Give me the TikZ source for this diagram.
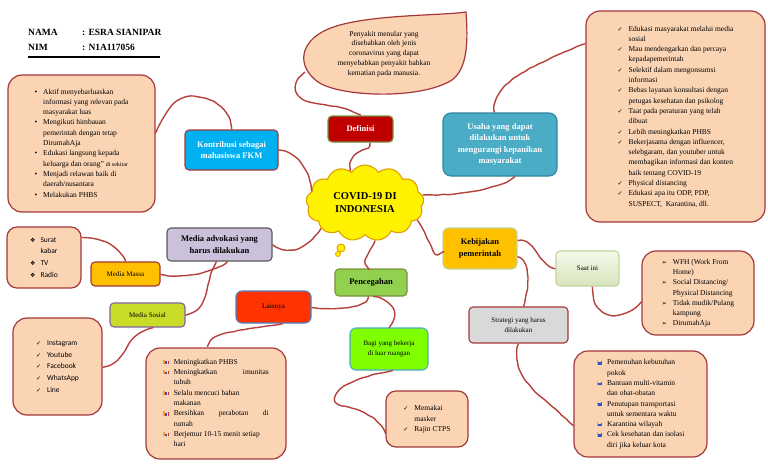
\documentclass[tikz,border=0pt]{standalone}
\usepackage{fontspec}
\setmainfont{Liberation Serif}
\setsansfont{Carlito}
\newfontfamily\symfont{DejaVu Sans}
\usepackage{xcolor}
\usepackage{tikz}
\usetikzlibrary{shapes.symbols,decorations.pathmorphing}

\definecolor{peach}{HTML}{FBD4B4}
\definecolor{boxred}{HTML}{A5383A}
\definecolor{linkred}{HTML}{B5413C}
\definecolor{fkmblue}{HTML}{00B0F0}
\definecolor{defred}{HTML}{C00000}
\definecolor{olive}{HTML}{77933C}
\definecolor{teal}{HTML}{4BACC6}
\definecolor{tealdark}{HTML}{31859C}
\definecolor{amber}{HTML}{FFC000}
\definecolor{palegreen}{HTML}{C3D69B}
\definecolor{saatlight}{HTML}{F4F9EA}
\definecolor{saatgreen}{HTML}{D7E4BD}
\definecolor{grey}{HTML}{D9D9D9}
\definecolor{lavender}{HTML}{CCC1DA}
\definecolor{darkgrey}{HTML}{595959}
\definecolor{lime}{HTML}{C8DC28}
\definecolor{purple}{HTML}{8064A2}
\definecolor{flame}{HTML}{FF3300}
\definecolor{steel}{HTML}{4F81BD}
\definecolor{leaf}{HTML}{92D050}
\definecolor{brightgreen}{HTML}{80FF00}
\definecolor{cloudedge}{HTML}{E0A000}
\definecolor{iconorange}{HTML}{F0A030}
\definecolor{iconblue}{HTML}{3050C0}
\definecolor{iconred}{HTML}{D03030}

\newcommand\chk{{\symfont\fontsize{6}{6}\selectfont ✓}}
\newcommand\dia{{\symfont\fontsize{6}{6}\selectfont ❖}}
\newcommand\arw{{\symfont\fontsize{6}{6}\selectfont ➢}}
\newcommand\picbul{\raisebox{0.3pt}{\textcolor{iconorange}{\rule{1.5pt}{4.2pt}}\hspace{0.2pt}\textcolor{iconblue}{\rule{2.4pt}{2.6pt}}\hspace{0.2pt}\textcolor{iconred}{\rule{1.2pt}{3.4pt}}}}

\begin{document}
\pgfmathsetseed{11}
\begin{tikzpicture}[
    x=1pt, y=-1pt,
    listbox/.style={draw=boxred, line width=1.2pt, fill=peach, rounded corners=14pt, inner sep=0pt, align=left, font=\fontsize{7.5}{10.3}\selectfont},
    titlebox/.style={draw, line width=1.1pt, rounded corners=4pt, align=center, inner sep=1pt, font=\bfseries\fontsize{8.5}{11.3}\selectfont},
    smallbox/.style={draw, line width=1.1pt, rounded corners=4pt, align=center, inner sep=1pt, font=\fontsize{7}{10}\selectfont},
    conn/.style={draw=linkred, line width=1.4pt, decorate, decoration={random steps, segment length=5pt, amplitude=0.5pt}, rounded corners=1.5pt},
    head/.style={anchor=base west, inner sep=0pt, font=\bfseries\fontsize{9.5}{11}\selectfont}
]
    \useasboundingbox (0,0) rectangle (768,466);

    % header
    \node[head] (nama) at (28,35) {NAMA};
    \node[head] (namaval) at (82,35) {: ESRA SIANIPAR};
    \node[head] (nim) at (28,50) {NIM};
    \node[head] (nimval) at (82,50) {: N1A117056};
    \draw[line width=1.2pt] (28,57) -- (160,57);

    % definisi bubble
    \draw[draw=boxred, line width=1.2pt, fill=peach] (466,12) .. controls (440,16) and (360,14) .. (326,30)
        .. controls (300,42) and (296,66) .. (318,82) .. controls (340,97) and (420,100) .. (452,80)
        .. controls (468,68) and (468,40) .. (466,12) -- cycle;
    \node[align=center, font=\fontsize{7.5}{9.9}\selectfont] (defbub) at (384,54)
        {Penyakit menular yang\\disebabkan oleh jenis\\coronavirus yang dapat\\menyebabkan penyakit bahkan\\kematian pada manusia.};
    \coordinate (defleft) at (305,72);

    % list boxes
    \node[listbox, minimum width=147, minimum height=137] (kbox) at (81.5,143.5) {%
        \begin{tabular}{@{}l@{\hspace{6pt}}l@{}}
        \textbullet & Aktif menyebarluaskan\\
         & informasi yang relevan pada\\
         & masyarakat luas\\
        \textbullet & Mengikuti himbauan\\
         & pemerintah dengan tetap\\
         & DirumahAja\\
        \textbullet & Edukasi langsung kepada\\
         & keluarga dan orang'' {\fontsize{6}{6}\selectfont di sekitar}\\
        \textbullet & Menjadi relawan baik di\\
         & daerah/nusantara\\
        \textbullet & Melakukan PHBS
        \end{tabular}};
    \node[listbox, minimum width=179, minimum height=211] (ubox) at (675.5,116.5) {%
        \begin{tabular}{@{}l@{\hspace{6pt}}l@{}}
        \chk & Edukasi masyarakat melalui media\\
         & sosial\\
        \chk & Mau mendengarkan dan percaya\\
         & kepadapemerintah\\
        \chk & Selektif dalam mengonsumsi\\
         & informasi\\
        \chk & Bebas layanan konsultasi dengan\\
         & petugas kesehatan dan psikolog\\
        \chk & Taat pada peraturan yang telah\\
         & dibuat\\
        \chk & Lebih meningkatkan PHBS\\
        \chk & Bekerjasama dengan influencer,\\
         & selebgaram, dan youtuber untuk\\
         & membagikan informasi dan konten\\
         & baik tentang COVID-19\\
        \chk & Physical distancing\\
        \chk & Edukasi apa itu ODP, PDP,\\
         & SUSPECT,~ Karantina, dll.
        \end{tabular}};
    \node[listbox, minimum width=74, minimum height=61, rounded corners=10pt, font=\sffamily\fontsize{7.5}{11.7}\selectfont] (mmbox) at (44,257.5) {%
        \begin{tabular}{@{}l@{\hspace{5pt}}l@{}}
        \dia & Surat\\
         & kabar\\
        \dia & TV\\
        \dia & Radio
        \end{tabular}};
    \node[listbox, minimum width=89, minimum height=97, font=\sffamily\fontsize{7.5}{11.7}\selectfont] (msbox) at (57.5,366.5) {%
        \begin{tabular}{@{}l@{\hspace{6pt}}l@{}}
        \chk & Instagram\\
        \chk & Youtube\\
        \chk & Facebook\\
        \chk & WhatsApp\\
        \chk & Line
        \end{tabular}};
    \node[listbox, minimum width=140, minimum height=111] (lbox) at (216,403.5) {%
        \begin{tabular}{@{}l@{\hspace{5pt}}l@{}}
        \picbul & Meningkatkan PHBS\\
        \picbul & \makebox[95pt][s]{Meningkatkan\hfill imunitas}\\
         & tubuh\\
        \picbul & Selalu mencuci bahan\\
         & makanan\\
        \picbul & \makebox[95pt][s]{Bersihkan\hfill perabotan\hfill di}\\
         & rumah\\
        \picbul & Berjemur 10-15 menit setiap\\
         & hari
        \end{tabular}};
    \node[listbox, minimum width=82, minimum height=56, rounded corners=10pt] (mbox) at (427,419) {%
        \begin{tabular}{@{}l@{\hspace{6pt}}l@{}}
        \chk & Memakai\\
         & masker\\
        \chk & Rajin CTPS
        \end{tabular}};
    \node[listbox, minimum width=112, minimum height=84] (sbox) at (698,293) {%
        \begin{tabular}{@{}l@{\hspace{6pt}}l@{}}
        \arw & WFH (Work From\\
         & Home)\\
        \arw & Social Distancing/\\
         & Physical Distancing\\
        \arw & Tidak mudik/Pulang\\
         & kampung\\
        \arw & DirumahAja
        \end{tabular}};
    \node[listbox, minimum width=133, minimum height=106] (stbox) at (640.5,404) {%
        \begin{tabular}{@{}l@{\hspace{5pt}}l@{}}
        \picbul & Pemenuhan kebutuhan\\
         & pokok\\
        \picbul & Bantuan multi-vitamin\\
         & dan obat-obatan\\
        \picbul & Penutupan transportasi\\
         & untuk sementara waktu\\
        \picbul & Karantina wilayah\\
        \picbul & Cek kesehatan dan isolasi\\
         & diri jika keluar kota
        \end{tabular}};

    % centre
    \node[cloud, cloud puffs=13, cloud puff arc=115, aspect=1.5, draw=cloudedge, line width=1.1pt, fill=yellow,
        minimum width=118, minimum height=76, inner sep=0pt, align=center, font=\bfseries\fontsize{10.5}{13}\selectfont] (covid) at (365,203) {COVID-19 DI\\INDONESIA};
    \node[circle, draw=cloudedge, fill=yellow, line width=0.9pt, minimum size=8, inner sep=0pt] (puff1) at (341,248) {};
    \node[circle, draw=cloudedge, fill=yellow, line width=0.8pt, minimum size=5, inner sep=0pt] (puff2) at (338,254) {};

    % title boxes
    \node[titlebox, draw=boxred, fill=fkmblue, text=white, minimum width=93, minimum height=40] (kontrib) at (231.5,150) {Kontribusi sebagai\\mahasiswa FKM};
    \node[titlebox, draw=olive, fill=defred, text=white, minimum width=65, minimum height=26] (defin) at (360.5,129) {Definisi};
    \node[titlebox, draw=tealdark, fill=teal, text=white, minimum width=114, minimum height=63, rounded corners=8pt] (usaha) at (500,144.5) {Usaha yang dapat\\dilakukan untuk\\mengurangi kepanikan\\masyarakat};
    \node[titlebox, draw=palegreen, fill=amber, minimum width=74, minimum height=41, rounded corners=5pt] (kebij) at (480,248.5) {Kebijakan\\pemerintah};
    \node[titlebox, draw=darkgrey, fill=lavender, minimum width=105, minimum height=33] (media) at (219.5,244.5) {Media advokasi yang\\harus dilakukan};
    \node[titlebox, draw=olive, fill=leaf, minimum width=72, minimum height=27] (cegah) at (371,282.5) {Pencegahan};

    % small boxes
    \node[smallbox, draw=palegreen, top color=saatlight, bottom color=saatgreen, minimum width=63, minimum height=35] (saat) at (587.5,268.5) {Saat ini};
    \node[smallbox, draw=boxred, fill=grey, minimum width=99, minimum height=36] (strat) at (518.5,325) {Strategi yang harus\\dilakukan};
    \node[smallbox, draw=boxred, fill=amber, minimum width=69, minimum height=24] (massa) at (125.5,274) {Media Massa};
    \node[smallbox, draw=purple, fill=lime, minimum width=75, minimum height=24] (sosial) at (147.5,315) {Media Sosial};
    \node[smallbox, draw=steel, fill=flame, minimum width=75, minimum height=32, rounded corners=6pt] (lain) at (273.5,307) {Lainnya};
    \node[smallbox, draw=teal, fill=brightgreen, minimum width=78, minimum height=42, rounded corners=6pt] (bagi) at (389,349) {Bagi yang bekerja\\di luar ruangan};

    % connectors
    \draw[conn] (kbox.8) .. controls (168,104) and (180,95) .. (198,97) .. controls (216,99) and (231,112) .. (kontrib.north);
    \draw[conn] (kontrib.east) .. controls (295,152) and (310,168) .. (covid.168);
    \draw[conn] (defleft) .. controls (290,84) and (292,100) .. (320,104) .. controls (340,107) and (352,110) .. (defin.north);
    \draw[conn] (defin.-55) .. controls (370,150) and (345,152) .. (covid.112);
    \draw[conn] (usaha.100) .. controls (490,82) and (540,62) .. (ubox.141);
    \draw[conn] (usaha.-65) .. controls (500,190) and (450,196) .. (covid.8);
    \draw[conn] (covid.-18) .. controls (435,248) and (432,262) .. (kebij.west);
    \draw[conn] (kebij.12) .. controls (535,240) and (536,262) .. (saat.west);
    \draw[conn] (kebij.-12) .. controls (532,262) and (528,292) .. (strat.75);
    \draw[conn] (saat.-75) .. controls (592,322) and (625,322) .. (sbox.188);
    \draw[conn] (strat.south) .. controls (508,378) and (545,398) .. (stbox.-162);
    \draw[conn] (covid.-150) .. controls (302,256) and (285,252) .. (media.east);
    \draw[conn] (media.-65) .. controls (215,272) and (180,280) .. (massa.east);
    \draw[conn] (media.-100) .. controls (202,290) and (212,306) .. (sosial.east);
    \draw[conn] (mmbox.28) .. controls (110,238) and (120,250) .. (massa.north);
    \draw[conn] (sosial.-65) .. controls (122,335) and (128,365) .. (msbox.east);
    \draw[conn] (covid.-75) .. controls (368,256) and (360,260) .. (cegah.north);
    \draw[conn] (cegah.-100) .. controls (366,310) and (320,310) .. (lain.east);
    \draw[conn] (cegah.-80) .. controls (392,300) and (400,312) .. (bagi.north);
    \draw[conn] (lain.-60) .. controls (240,332) and (210,330) .. (lbox.97);
    \draw[conn] (bagi.-80) .. controls (340,380) and (328,396) .. (340,405) .. controls (368,412) and (380,420) .. (mbox.-160);
\end{tikzpicture}
\end{document}
